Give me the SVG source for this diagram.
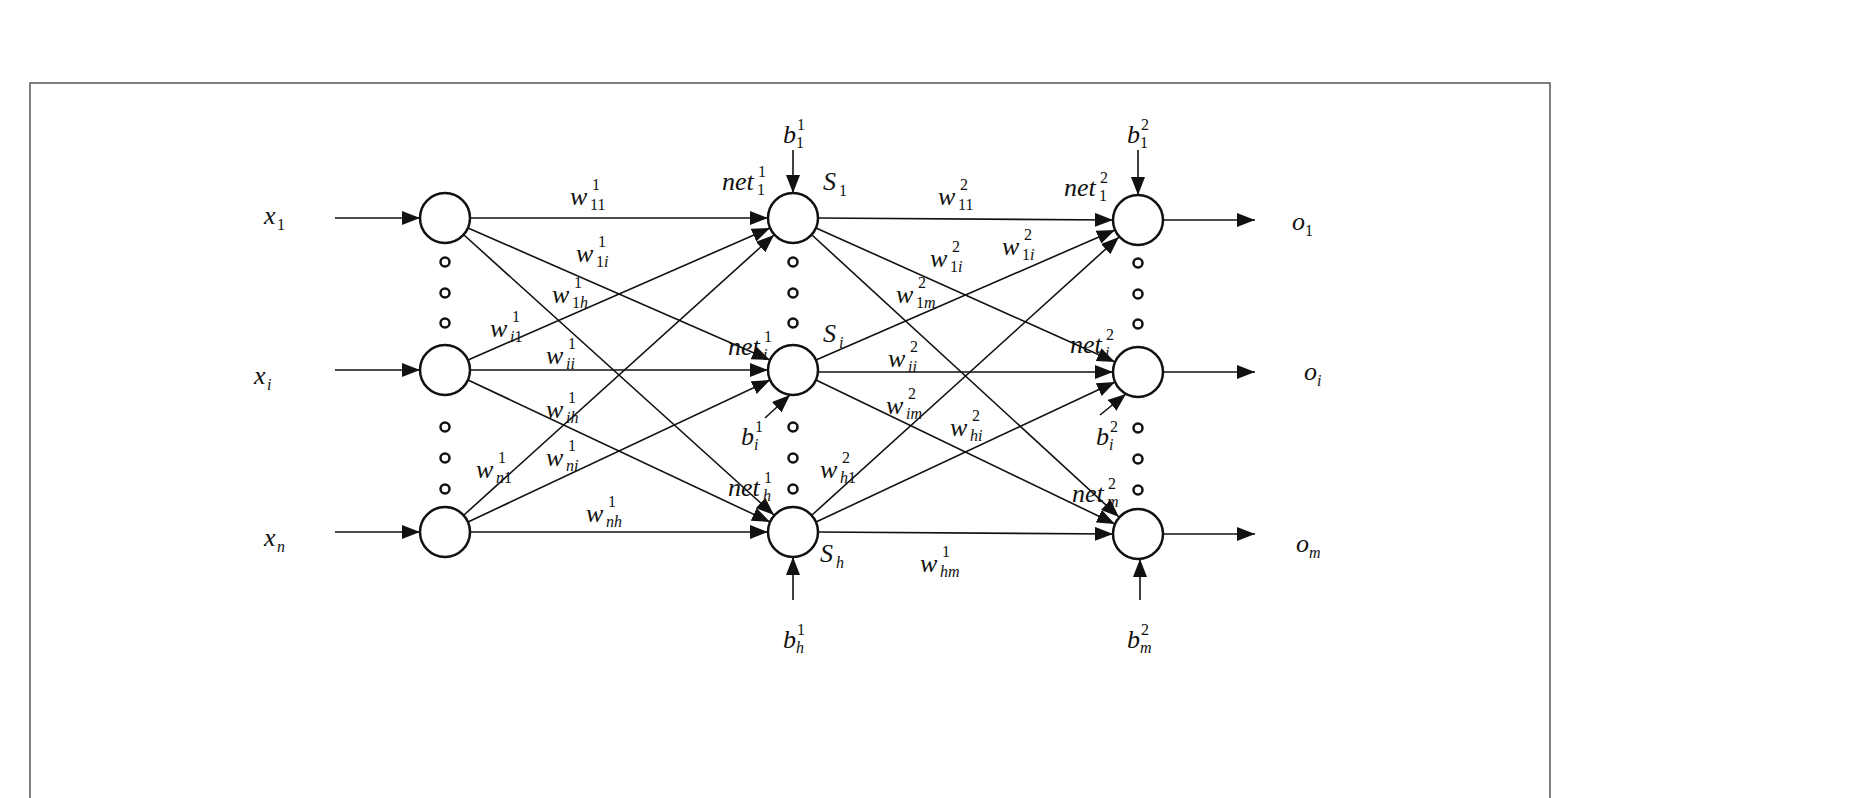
<svg xmlns="http://www.w3.org/2000/svg" width="1862" height="798" viewBox="0 0 1862 798">
<defs>
<style>
.n{fill:#fff;stroke:#111;stroke-width:2.5}
.d{fill:none;stroke:#111;stroke-width:2.5}
.e{stroke:#111;stroke-width:1.6;fill:none}
.t{font-family:"Liberation Serif",serif;font-style:italic;font-size:26px;fill:#111}
.s{font-family:"Liberation Serif",serif;font-size:16px;fill:#111}
.si{font-family:"Liberation Serif",serif;font-style:italic;font-size:16px;fill:#111}
</style>
<marker id="a" viewBox="0 0 18 14" refX="18" refY="7" markerWidth="18" markerHeight="14" markerUnits="userSpaceOnUse" orient="auto"><path d="M0,0L18,7L0,14z" fill="#111"/></marker>
</defs>
<rect width="1862" height="798" fill="#fff"/>
<path d="M30,798V83H1550V798" fill="none" stroke="#555" stroke-width="1.5"/>
<g id="connectors">
<path class="e" marker-end="url(#a)" d="M335,218H420"/><path class="e" marker-end="url(#a)" d="M335,370H420"/><path class="e" marker-end="url(#a)" d="M335,532H420"/>
<path class="e" marker-end="url(#a)" d="M1163,220H1255"/><path class="e" marker-end="url(#a)" d="M1163,372H1255"/><path class="e" marker-end="url(#a)" d="M1163,534H1255"/>
<path class="e" marker-end="url(#a)" d="M470,218L768,218"/><path class="e" marker-end="url(#a)" d="M468,228L770,360"/><path class="e" marker-end="url(#a)" d="M464,235L774,515"/>
<path class="e" marker-end="url(#a)" d="M468,360L770,228"/><path class="e" marker-end="url(#a)" d="M470,370L768,370"/><path class="e" marker-end="url(#a)" d="M468,380L770,522"/>
<path class="e" marker-end="url(#a)" d="M464,515L774,235"/><path class="e" marker-end="url(#a)" d="M468,522L770,380"/><path class="e" marker-end="url(#a)" d="M470,532L768,532"/>
<path class="e" marker-end="url(#a)" d="M818,218L1113,220"/><path class="e" marker-end="url(#a)" d="M816,228L1115,362"/><path class="e" marker-end="url(#a)" d="M812,235L1119,517"/>
<path class="e" marker-end="url(#a)" d="M816,360L1115,230"/><path class="e" marker-end="url(#a)" d="M818,372L1113,372"/><path class="e" marker-end="url(#a)" d="M816,380L1115,524"/>
<path class="e" marker-end="url(#a)" d="M812,515L1119,237"/><path class="e" marker-end="url(#a)" d="M816,522L1115,382"/><path class="e" marker-end="url(#a)" d="M818,532L1113,534"/>
<path class="e" marker-end="url(#a)" d="M793,150V193"/><path class="e" marker-end="url(#a)" d="M765,418L790,395"/><path class="e" marker-end="url(#a)" d="M793,600V557"/>
<path class="e" marker-end="url(#a)" d="M1138,150V195"/><path class="e" marker-end="url(#a)" d="M1100,415L1126,394"/><path class="e" marker-end="url(#a)" d="M1140,600V559"/>
</g>
<g id="input-nodes"><circle class="n" cx="445" cy="218" r="25"/><circle class="n" cx="445" cy="370" r="25"/><circle class="n" cx="445" cy="532" r="25"/></g>
<g id="hidden-nodes"><circle class="n" cx="793" cy="218" r="25"/><circle class="n" cx="793" cy="370" r="25"/><circle class="n" cx="793" cy="532" r="25"/></g>
<g id="output-nodes"><circle class="n" cx="1138" cy="220" r="25"/><circle class="n" cx="1138" cy="372" r="25"/><circle class="n" cx="1138" cy="534" r="25"/></g>
<g id="dots">
<circle class="d" cx="445" cy="262" r="4.5"/><circle class="d" cx="445" cy="293" r="4.5"/><circle class="d" cx="445" cy="323" r="4.5"/><circle class="d" cx="445" cy="427" r="4.5"/><circle class="d" cx="445" cy="458" r="4.5"/><circle class="d" cx="445" cy="489" r="4.5"/>
<circle class="d" cx="793" cy="262" r="4.5"/><circle class="d" cx="793" cy="293" r="4.5"/><circle class="d" cx="793" cy="323" r="4.5"/><circle class="d" cx="793" cy="427" r="4.5"/><circle class="d" cx="793" cy="458" r="4.5"/><circle class="d" cx="793" cy="489" r="4.5"/>
<circle class="d" cx="1138" cy="263" r="4.5"/><circle class="d" cx="1138" cy="294" r="4.5"/><circle class="d" cx="1138" cy="324" r="4.5"/><circle class="d" cx="1138" cy="428" r="4.5"/><circle class="d" cx="1138" cy="459" r="4.5"/><circle class="d" cx="1138" cy="490" r="4.5"/>
</g>
<g id="labels">
<text class="t" x="264" y="224">x</text><text class="s" x="277" y="230">1</text>
<text class="t" x="254" y="384">x</text><text class="si" x="267" y="390">i</text>
<text class="t" x="264" y="546">x</text><text class="si" x="277" y="552">n</text>
<text class="t" x="1292" y="230">o</text><text class="s" x="1305" y="236">1</text>
<text class="t" x="1304" y="380">o</text><text class="si" x="1317" y="386">i</text>
<text class="t" x="1296" y="552">o</text><text class="si" x="1309" y="558">m</text>

<text class="t" x="570" y="205">w</text><text class="s" x="592" y="190">1</text><text class="s" x="590" y="210">11</text>
<text class="t" x="576" y="262">w</text><text class="s" x="598" y="247">1</text><text class="s" x="596" y="267">1<tspan font-style="italic">i</tspan></text>
<text class="t" x="552" y="303">w</text><text class="s" x="574" y="288">1</text><text class="s" x="572" y="308">1<tspan font-style="italic">h</tspan></text>
<text class="t" x="490" y="337">w</text><text class="s" x="512" y="322">1</text><text class="si" x="510" y="342">i<tspan font-style="normal">1</tspan></text>
<text class="t" x="546" y="364">w</text><text class="s" x="568" y="349">1</text><text class="si" x="566" y="369">ii</text>
<text class="t" x="546" y="418">w</text><text class="s" x="568" y="403">1</text><text class="si" x="566" y="423">ih</text>
<text class="t" x="546" y="466">w</text><text class="s" x="568" y="451">1</text><text class="si" x="566" y="471">ni</text>
<text class="t" x="476" y="478">w</text><text class="s" x="498" y="463">1</text><text class="si" x="496" y="483">n<tspan font-style="normal">1</tspan></text>
<text class="t" x="586" y="522">w</text><text class="s" x="608" y="507">1</text><text class="si" x="606" y="527">nh</text>

<text class="t" x="783" y="143">b</text><text class="s" x="797" y="130">1</text><text class="s" x="796" y="148">1</text>
<text class="t" x="741" y="445">b</text><text class="s" x="755" y="432">1</text><text class="si" x="754" y="450">i</text>
<text class="t" x="783" y="648">b</text><text class="s" x="797" y="635">1</text><text class="si" x="796" y="653">h</text>
<text class="t" x="1127" y="143">b</text><text class="s" x="1141" y="130">2</text><text class="s" x="1140" y="148">1</text>
<text class="t" x="1096" y="445">b</text><text class="s" x="1110" y="432">2</text><text class="si" x="1109" y="450">i</text>
<text class="t" x="1127" y="648">b</text><text class="s" x="1141" y="635">2</text><text class="si" x="1140" y="653">m</text>

<text class="t" x="722" y="190">net</text><text class="s" x="758" y="177">1</text><text class="s" x="757" y="195">1</text>
<text class="t" x="728" y="355">net</text><text class="s" x="764" y="342">1</text><text class="si" x="763" y="360">i</text>
<text class="t" x="728" y="496">net</text><text class="s" x="764" y="483">1</text><text class="si" x="763" y="501">h</text>
<text class="t" x="1064" y="196">net</text><text class="s" x="1100" y="183">2</text><text class="s" x="1099" y="201">1</text>
<text class="t" x="1070" y="353">net</text><text class="s" x="1106" y="340">2</text><text class="si" x="1105" y="358">i</text>
<text class="t" x="1072" y="502">net</text><text class="s" x="1108" y="489">2</text><text class="si" x="1107" y="507">m</text>

<text class="t" x="823" y="190">S</text><text class="s" x="839" y="196">1</text>
<text class="t" x="823" y="342">S</text><text class="si" x="839" y="348">i</text>
<text class="t" x="820" y="562">S</text><text class="si" x="836" y="568">h</text>

<text class="t" x="938" y="205">w</text><text class="s" x="960" y="190">2</text><text class="s" x="958" y="210">11</text>
<text class="t" x="930" y="267">w</text><text class="s" x="952" y="252">2</text><text class="s" x="950" y="272">1<tspan font-style="italic">i</tspan></text>
<text class="t" x="1002" y="255">w</text><text class="s" x="1024" y="240">2</text><text class="s" x="1022" y="260">1<tspan font-style="italic">i</tspan></text>
<text class="t" x="896" y="303">w</text><text class="s" x="918" y="288">2</text><text class="s" x="916" y="308">1<tspan font-style="italic">m</tspan></text>
<text class="t" x="888" y="367">w</text><text class="s" x="910" y="352">2</text><text class="si" x="908" y="372">ii</text>
<text class="t" x="886" y="414">w</text><text class="s" x="908" y="399">2</text><text class="si" x="906" y="419">im</text>
<text class="t" x="950" y="436">w</text><text class="s" x="972" y="421">2</text><text class="si" x="970" y="441">hi</text>
<text class="t" x="820" y="478">w</text><text class="s" x="842" y="463">2</text><text class="si" x="840" y="483">h<tspan font-style="normal">1</tspan></text>
<text class="t" x="920" y="572">w</text><text class="s" x="942" y="557">1</text><text class="si" x="940" y="577">hm</text>
</g>
</svg>
